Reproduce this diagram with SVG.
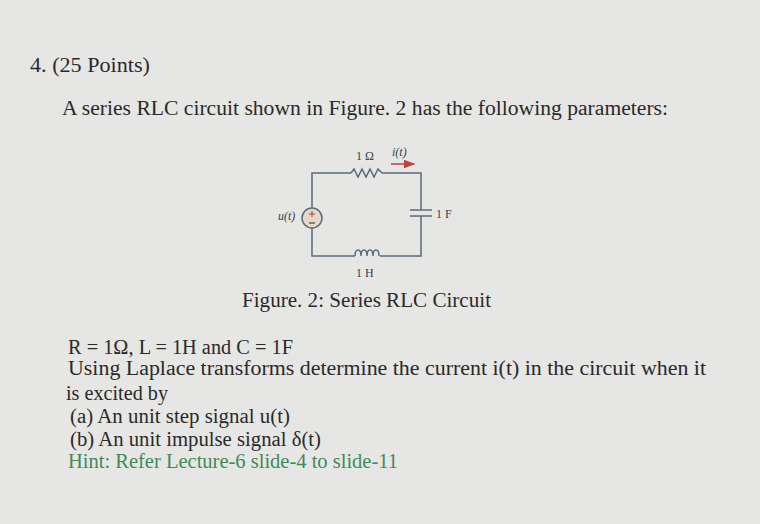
<svg xmlns="http://www.w3.org/2000/svg" width="760" height="524" viewBox="0 0 760 524">
<style>
.t{font-family:"Liberation Serif",serif;fill:#2a2a2a;font-size:20px}
.s{font-family:"Liberation Serif",serif;fill:#3a4250;font-size:12px}
.w{fill:none;stroke:#5a6a80;stroke-width:1.5}
</style>
<defs><marker id="a" markerWidth="8" markerHeight="6" refX="7" refY="3" orient="auto"><path d="M0,0L8,3L0,6z" fill="#c0404a"/></marker></defs>
<rect width="760" height="524" fill="#e6e6e4"/>
<text class="t" x="30" y="72" textLength="120" lengthAdjust="spacingAndGlyphs">4.  (25 Points)</text>
<text class="t" x="62" y="115" textLength="606" lengthAdjust="spacingAndGlyphs">A series RLC circuit shown in Figure. 2 has the following parameters:</text>
<g id="connectors">
<path class="w" d="M312,208V173H351M382,173H421V210M421,216V256H380M355,256H312V228"/>
<line x1="391" y1="164" x2="414" y2="164" stroke="#c0404a" stroke-width="1.5" marker-end="url(#a)"/>
</g>
<g id="R"><path class="w" d="M351,173l3,-4l4,8l4,-8l4,8l4,-8l4,8l4,-8l4,4"/><text class="s" x="356" y="160">1 Ω</text><text class="s" x="392" y="156" font-style="italic">i(t)</text></g>
<g id="C"><line class="w" x1="410" y1="210" x2="432" y2="210"/><line class="w" x1="410" y1="216" x2="432" y2="216"/><text class="s" x="436" y="218">1 F</text></g>
<g id="L"><path class="w" d="M355,256c0,-8 6,-8 6,0c0,-8 6,-8 6,0c0,-8 6,-8 6,0c0,-8 6,-8 6,0"/><text class="s" x="356" y="277">1 H</text></g>
<g id="V"><circle cx="312" cy="218" r="10" fill="#e8d8c8" stroke="#5a6a80" stroke-width="1.5"/><path d="M309,214h6M312,211v6" stroke="#b05030" stroke-width="1.2"/><path d="M309,223h6" stroke="#3a4250" stroke-width="1.2"/><text class="s" x="278" y="220" font-style="italic" font-size="10">u(t)</text></g>
<text class="t" x="242" y="307" textLength="249" lengthAdjust="spacingAndGlyphs">Figure. 2: Series RLC Circuit</text>
<text class="t" x="68" y="354" textLength="225" lengthAdjust="spacingAndGlyphs">R = 1Ω, L = 1H and C = 1F</text>
<text class="t" x="68" y="375" textLength="638" lengthAdjust="spacingAndGlyphs">Using Laplace transforms determine the current i(t) in the circuit when it</text>
<text class="t" x="66" y="400" textLength="102" lengthAdjust="spacingAndGlyphs">is excited by</text>
<text class="t" x="70" y="423" textLength="220" lengthAdjust="spacingAndGlyphs">(a) An unit step signal u(t)</text>
<text class="t" x="70" y="446" textLength="251" lengthAdjust="spacingAndGlyphs">(b) An unit impulse signal δ(t)</text>
<text class="t" x="68" y="468" textLength="330" lengthAdjust="spacingAndGlyphs" style="fill:#3f8a5a">Hint: Refer Lecture-6 slide-4 to slide-11</text>
</svg>
